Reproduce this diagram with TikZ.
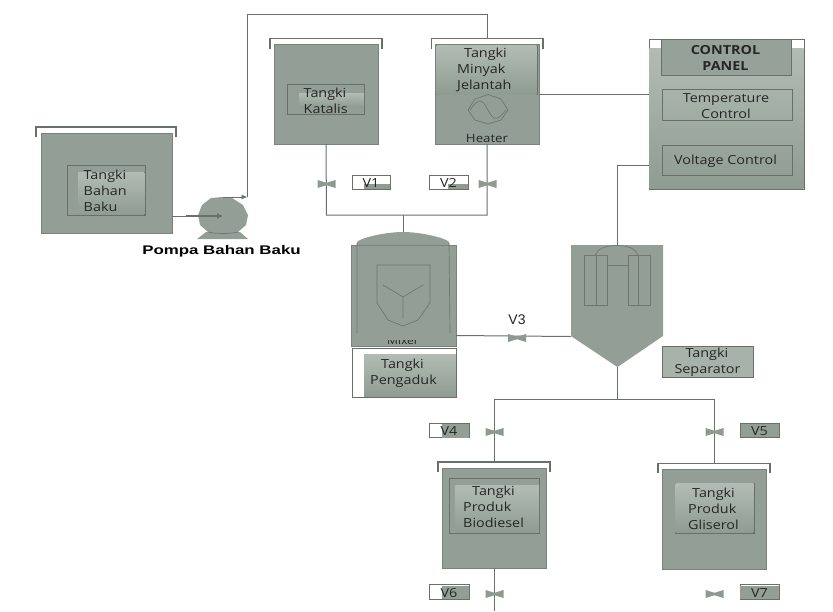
\documentclass[tikz,border=0pt]{standalone}
\usepackage{fontspec}
\setmainfont{Open Sans}[FakeStretch=1.15]
\newfontfamily\pumpfont{Liberation Sans}
\usetikzlibrary{shapes.geometric,arrows.meta}
\definecolor{tankc}{HTML}{939F96}
\definecolor{edgec}{HTML}{77837B}
\definecolor{linec}{HTML}{687069}
\definecolor{lighttop}{HTML}{B2BCB4}
\definecolor{lightbot}{HTML}{8F9C92}
\definecolor{valvec}{HTML}{8D9A90}
\tikzset{
 tank/.style={rectangle,fill=tankc,draw=edgec,line width=1pt,inner sep=0,outer sep=0},
 frame/.style={rectangle,draw=linec,line width=.8pt,inner sep=0,outer sep=0},
 band/.style={top color=lighttop,bottom color=lightbot,draw=none},
 bracket/.style={draw=linec,line width=1.2pt},
 pipe/.style={draw=linec,line width=1pt},
 thin part/.style={draw=linec!85!tankc,line width=.7pt},
 lab/.style={font=\fontsize{12.5}{16}\selectfont,align=left,inner sep=0,text=black!85,yshift=-.8pt},
 tag/.style={rectangle,draw=linec,line width=.7pt,fill=white,inner sep=0,minimum height=14,outer sep=0},
 valve/.style={rectangle,inner sep=0,outer sep=0,minimum width=18,minimum height=8},
}
\newcommand{\mkvalve}[2]{\node[valve] (#1) at (#2) {};
 \fill[valvec] (#1.north west) -- ([yshift=1.2pt]#1.center) -- (#1.north east) -- (#1.south east) -- ([yshift=-1.2pt]#1.center) -- (#1.south west) -- cycle;}
\begin{document}
\begin{tikzpicture}[x=1pt,y=-1pt]
\useasboundingbox (0,0) rectangle (833,611);
% ---- tanks
\node[tank,minimum width=131,minimum height=100] (bahan) at (106.5,183) {};
\node[tank,minimum width=104,minimum height=100] (katalis) at (326,94) {};
\node[tank,minimum width=104,minimum height=100] (minyak) at (487,94) {};
\node[tank,minimum width=104,minimum height=100] (biodiesel) at (494.5,518) {};
\node[tank,minimum width=104,minimum height=100] (gliserol) at (714,519) {};
\draw[bracket] (36,137) |- (176,127) -- (176,137);
\draw[bracket] (270,49) |- (382,38.5) -- (382,49);
\draw[bracket] (431.5,49) |- (543,38.5) -- (543,49);
\draw[bracket] (438,472) |- (550,462) -- (550,472);
\draw[bracket] (658,473) |- (770,463.5) -- (770,473);
% ---- connector anchor points
\coordinate (bahanout) at (172,216);
\coordinate (minyaktop) at (487,38.5);
\coordinate (minyakpanel) at (539,94.5);
\coordinate (pumpout) at (247.5,197);
\coordinate (c1) at (247.5,14.5);
\coordinate (c2) at (487,14.5);
\coordinate (j1) at (326.5,215);
\coordinate (j2) at (487,215);
\coordinate (j3) at (403,215);
\coordinate (paneleft) at (649,94.5);
\coordinate (panelv) at (649,165);
\coordinate (c3) at (617.5,165);
\coordinate (sepin) at (617.5,245);
\coordinate (mixout) at (456,335.5);
\coordinate (sepout) at (571,336.5);
\coordinate (sepbot) at (617.5,367);
\coordinate (j4) at (617.5,399);
\coordinate (c4) at (494.5,399);
\coordinate (c5) at (714.5,399);
\coordinate (biotop) at (494.5,462);
\coordinate (glitop) at (714.5,463.5);
\coordinate (drain) at (494.5,611);
\coordinate (mixtop) at (403,232);
% ---- mixer
\node[tank,minimum width=105,minimum height=101] (mixer) at (403.5,295.5) {};
\fill[tankc] (357,245) -- (357,242) .. controls (360,238) and (385,232) .. (403,232) .. controls (421,232) and (446,238) .. (449,242) -- (449,245) -- cycle;
\draw[thin part] (357,333) -- (357,243) (449,243) -- (450,333);
\draw[thin part] (377,265) -- (430,265) -- (430,303) -- (418,320) -- (403,326) -- (388,320) -- (377,303) -- cycle;
\draw[thin part] (383,285) -- (403,297) -- (423,285) (403,297) -- (403,318);
\begin{scope}
\clip (352,340.5) rectangle (455,346);
\node[font=\fontsize{10.5}{10}\selectfont,inner sep=0,text=black!85] (mixerlab) at (403,340.5) {Mixer};
\end{scope}
\node[frame,fill=white,minimum width=104,minimum height=49] (pengaduk) at (404,372.5) {};
\fill[band] (364,354) rectangle (456,397);
\draw[linec,line width=.8pt] (pengaduk.north west) rectangle (pengaduk.south east);
\node[lab,anchor=west] (pengaduklab) at (370,372.5) {\hspace*{11pt}Tangki\\Pengaduk};
% ---- separator
\node[inner sep=0,outer sep=0,minimum width=92,minimum height=122] (sep) at (617,306) {};
\fill[tankc] (571,245) -- (663,245) -- (663,336) -- (617.5,367) -- (571,336) -- cycle;
\draw[thin part] (584.5,255.5) rectangle (607,305.5) (596,255.5) -- (596,305.5);
\draw[thin part] (628,255.5) rectangle (650,305.5) (638.5,255.5) -- (638.5,305.5);
\draw[thin part] (595,255.5) .. controls (597,249) and (605,245.5) .. (617,245.5) .. controls (629,245.5) and (636,249) .. (638,255.5);
\draw[thin part] (607,265) -- (628,265);
\node[frame,fill=lighttop!70!lightbot,minimum width=91,minimum height=31] (seplab) at (707.5,361.5) {};
\node[lab] (septext) at (707.5,361.5) {\hspace*{11pt}Tangki\\Separator};
% ---- pump
\node[ellipse,inner sep=0,outer sep=0,minimum width=50,minimum height=38] (pump) at (223,216) {};
\fill[tankc] (206,232) -- (240,232) -- (248,239) -- (197,239) -- cycle;
\fill[tankc] (211,198) -- (222,197) -- (232,198) -- (243,205) -- (248,215) -- (246,225) -- (238,232) -- (208,232) -- (200,225) -- (198,215) -- (202,205) -- cycle;
\draw[thin part] (208,232) .. controls (215,234) and (231,234) .. (238,232);
\draw[pipe] (bahanout) -- (186,216);
\draw[draw=linec,line width=1.6pt,-{Latex[length=6pt,width=6pt]}] (186,216) -- (pump.center);
\draw[pipe,-{Latex[length=6pt,width=5pt]}] (pump.north) -- (pumpout);
\draw[pipe] (pumpout) -- (c1) -- (c2) -- (minyaktop);
\node[font=\pumpfont\bfseries\fontsize{12.5}{14}\selectfont,inner sep=0,xscale=1.35] (pumplab) at (221.5,251.5) {Pompa Bahan Baku};
% ---- control panel
\node[frame,fill=white,minimum width=155,minimum height=150] (panel) at (726.5,114) {};
\shade[top color=lighttop,bottom color=lightbot] (649.4,48) rectangle (803.6,188.6);
\node[frame,fill=tankc!90!lighttop,minimum width=130,minimum height=36] (cpbox) at (726,57) {};
\draw[linec,line width=.8pt] (661,39) -- (661,75) (791,39) -- (791,75);
\node[lab,font=\bfseries\fontsize{12.5}{16}\selectfont,align=center] (cplab) at (725.5,57) {CONTROL\\PANEL};
\node[frame,minimum width=130,minimum height=31] (tempbox) at (727,104.5) {};
\node[lab,align=center] (templab) at (726,105) {Temperature\\Control};
\node[frame,minimum width=130,minimum height=30] (voltbox) at (727,160) {};
\node[lab] (voltlab) at (725.5,160) {Voltage Control};
% ---- inner tank labels
\node[frame,minimum width=78,minimum height=50] (bahanbox) at (106,190) {};
\fill[band] (78,172) rectangle (144.5,214.5);
\node[lab,anchor=west] (bahanlab) at (83.5,190) {Tangki\\Bahan\\Baku};
\node[frame,minimum width=77,minimum height=30] (katbox) at (325.5,99) {};
\fill[band] (299,93) rectangle (364,107);
\node[lab,anchor=west] (katlab) at (303.5,100) {Tangki\\Katalis};
\node[frame,minimum width=101,minimum height=49] (minbox) at (486.5,69.5) {};
\shade[top color=lighttop,bottom color=lightbot] (436.5,45.5) rectangle (536.5,94);
\node[lab,anchor=west] (minlab) at (457,69) {\hspace*{7pt}Tangki\\Minyak\\Jelantah};
\draw[thin part] (475,99) -- (468,110) -- (475,120) -- (488,124) -- (501,120) -- (508,110) -- (501,99) -- (488,94.5) -- cycle;
\draw[thin part] (470,110) .. controls (480,96) and (482,100) .. (488,110) .. controls (494,122) and (498,120) .. (506,110);
\node[font=\fontsize{11.5}{12}\selectfont,inner sep=0,text=black!85] (heaterlab) at (487,138) {Heater};
\node[frame,minimum width=90,minimum height=55] (biobox) at (494,505.5) {};
\fill[band] (455,485) rectangle (539,532.5);
\node[lab,anchor=west] (biolab) at (463,506) {\hspace*{9pt}Tangki\\Produk\\Biodiesel};
\node[frame,minimum width=79,minimum height=50] (glibox) at (714.5,508) {};
\fill[band] (675.5,483.5) rectangle (753.5,532.5);
\node[lab,anchor=west] (glilab) at (688,508) {\hspace*{4pt}Tangki\\Produk\\Gliserol};
% ---- connectors
\draw[pipe] (katalis.south) -- (j1) -- (j3) -- (j2) -- (minyak.south);
\draw[pipe] (j3) -- (mixtop);
\draw[pipe] (minyakpanel) -- (paneleft);
\draw[pipe] (panelv) -- (c3) -- (sepin);
\draw[pipe] (mixout) -- (sepout);
\draw[pipe] (sepbot) -- (j4);
\draw[pipe] (c4) -- (c5);
\draw[pipe] (c4) -- (biotop);
\draw[pipe] (c5) -- (glitop);
\draw[pipe] (biodiesel.south) -- (drain);
% ---- valves
\mkvalve{v1}{326.5,184}
\mkvalve{v2}{487.5,184}
\mkvalve{v3}{517,338}
\mkvalve{v4}{494.5,432}
\mkvalve{v5}{714.5,432}
\mkvalve{v6}{494.5,594}
\mkvalve{v7}{714.5,594}
% ---- valve tags
\node[tag,minimum width=38] (t1) at (371,182.5) {};
\fill[lightbot] (364,183.5) rectangle (390,189);
\node[lab] (t1l) at (371,182.5) {V1};
\node[tag,minimum width=39] (t2) at (448.5,182.5) {};
\fill[lightbot] (448,183.5) rectangle (468,189);
\node[lab] (t2l) at (448.5,182.5) {V2};
\node[font=\pumpfont\fontsize{14}{16}\selectfont,inner sep=0,text=black!85] (v3l) at (517,320) {V3};
\node[tag,minimum width=40] (t4) at (449,430.5) {};
\fill[tankc] (442,423.5) rectangle (469,438);
\node[lab] (t4l) at (449,430.5) {V4};
\node[tag,minimum width=39,fill=tankc] (t5) at (759.5,430.5) {};
\node[lab] (t5l) at (759.5,430.5) {V5};
\node[tag,minimum width=40,minimum height=15] (t6) at (449,591.5) {};
\fill[tankc] (442,586) rectangle (469,599);
\node[lab] (t6l) at (449,592) {V6};
\node[tag,minimum width=39,minimum height=15] (t7) at (759.5,591.5) {};
\fill[tankc] (740.4,586) rectangle (778.6,598.6);
\node[lab] (t7l) at (759.5,592) {V7};
\end{tikzpicture}
\end{document}
